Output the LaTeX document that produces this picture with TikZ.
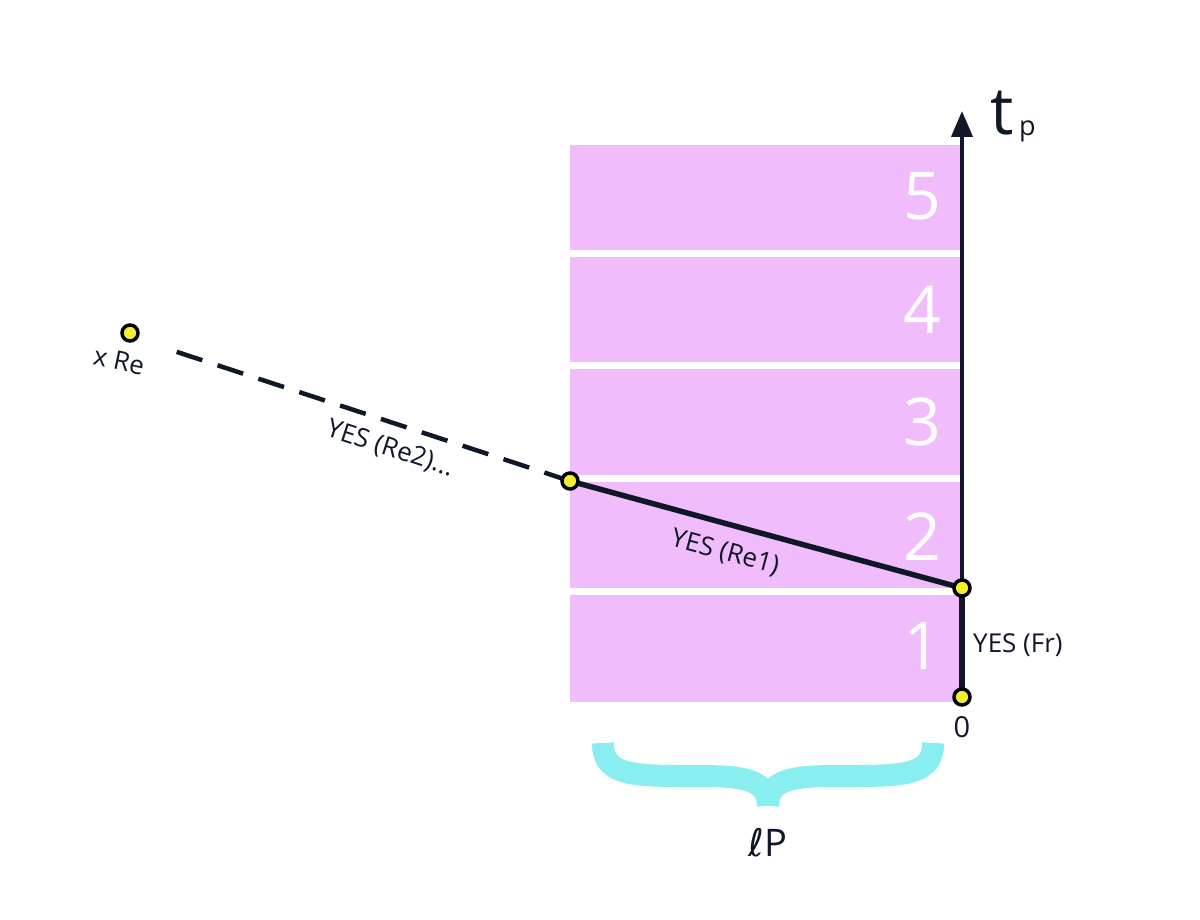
\documentclass[tikz,border=0pt]{standalone}
\usepackage{fontspec}
\setmainfont{Open Sans}
\newfontfamily\djv{DejaVu Sans}
\usetikzlibrary{arrows.meta}
\definecolor{stripe}{HTML}{F0BCFC}
\definecolor{ink}{HTML}{101828}
\definecolor{dot}{HTML}{F4EF2C}
\definecolor{bracec}{HTML}{88EEF0}
\pgfdeclarelayer{back}
\pgfsetlayers{back,main}
\begin{document}
\begin{tikzpicture}[x=1pt,y=-1pt,
  stripebox/.style={fill=stripe, draw=none},
  num/.style={text=white, font=\fontsize{66}{66}\selectfont, inner sep=0},
  ptdot/.style={circle, fill=dot, draw=black, line width=3.5pt, minimum size=16pt, inner sep=0},
  lbl/.style={text=ink, font=\fontsize{26}{26}\selectfont, inner sep=0}
]
\useasboundingbox (0,0) rectangle (1200,920);

% points
\node[ptdot] (xre) at (130,333) {};
\node[ptdot] (p2) at (570,481) {};
\node[ptdot] (p1) at (962,588) {};
\node[ptdot] (p0) at (962,697) {};
\coordinate (dstart) at (168,349);
\coordinate (top) at (962,111);

\begin{pgfonlayer}{back}
  \fill[white] (0,0) rectangle (1200,920);
  \fill[stripebox] (570,145) rectangle (960,250);
  \fill[stripebox] (570,257) rectangle (960,362);
  \fill[stripebox] (570,369) rectangle (960,475);
  \fill[stripebox] (570,482) rectangle (960,588);
  \fill[stripebox] (570,595) rectangle (960,702);
  \node[num] (n5) at (922,196) {5};
  \node[num] (n4) at (922,310) {4};
  \node[num] (n3) at (922,422) {3};
  \node[num] (n2) at (922,537) {2};
  \node[num] (n1) at (922,646) {1};
  % axis
  \draw[ink, line width=4pt, -{Triangle[width=21pt,length=26pt]}] (p0.center) -- (top);
  \draw[ink, line width=6.5pt] (p0.center) -- (p1.center);
  \draw[ink, line width=5.5pt] (p1.center) -- (p2.center);
  \draw[ink, line width=4.5pt, dash pattern=on 27pt off 16pt] (p2.center) -- (dstart);
  % brace
  \draw[bracec, line width=22pt, line cap=butt]
    (603,743) .. controls (603,772) and (625,776) .. (680,776) -- (700,776)
    .. controls (745,776) and (768,780) .. (768,806);
  \draw[bracec, line width=22pt, line cap=butt]
    (933,743) .. controls (933,772) and (911,776) .. (856,776) -- (836,776)
    .. controls (791,776) and (768,780) .. (768,806);
\end{pgfonlayer}

% labels
\node[lbl, rotate=-15] (re1lbl) at (725,553) {YES (Re1)};
\node[lbl, rotate=-18] (re2lbl) at (390,449) {YES (Re2)...};
\node[lbl, rotate=-12] (xrelbl) at (119,361) {x Re};
\node[lbl, anchor=west] (frlbl) at (973,645) {YES (Fr)};
\node[lbl, font=\fontsize{29}{29}\selectfont] (zero) at (962,727) {0};
\node[text=ink, inner sep=0, anchor=base west, font=\fontsize{66}{66}\selectfont] (tlbl) at (990,135) {t};
\node[text=ink, inner sep=0, anchor=base west, font=\fontsize{27}{27}\selectfont] (plbl) at (1019,136) {p};
\node[text=ink, inner sep=0, font=\fontsize{38}{38}\selectfont] (lp) at (768,843) {{\djv ℓ}P};
\end{tikzpicture}
\end{document}
